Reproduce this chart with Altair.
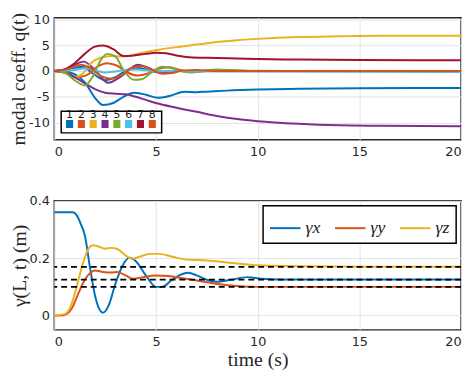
import altair as alt
import pandas as pd

# ---------------- top panel: modal coefficients q(t) ----------------
mode_names = ["1", "2", "3", "4", "5", "6", "7", "8"]
mode_colors = ["#0072BD", "#D95319", "#EDB120", "#7E2F8E", "#77AC30", "#4DBEEE", "#A2142F", "#D95319"]

t_m1 = [0, 0.5, 1.0, 1.5, 2.0, 2.4, 2.9, 3.4, 3.9, 4.5, 5.1, 5.7, 6.4, 7.0, 7.5, 8.5, 10, 12, 15, 20]
q_m1 = [0, -0.1, -0.6, -2.2, -5.2, -6.6, -6.2, -5.0, -4.2, -4.6, -5.2, -4.8, -4.0, -4.1, -4.0, -3.8, -3.6, -3.45, -3.35, -3.3]

t_m2 = [0, 0.6, 1.1, 1.6, 2.1, 2.6, 3.1, 3.6, 4.1, 4.6, 5.1, 5.6, 6.1, 6.6, 7.2, 8, 9, 10, 20]
q_m2 = [0, -0.3, -1.2, -0.8, 0.8, 1.5, 1.0, -0.3, -0.9, -0.5, 0.4, 0.7, 0.3, -0.2, -0.1, 0.2, 0.1, 0, 0]

t_m3 = [0, 0.5, 1.0, 1.4, 1.8, 2.3, 2.8, 3.3, 3.8, 4.3, 5, 6, 7, 8, 9, 10, 12, 14, 16, 20]
q_m3 = [0, -0.3, -1.2, -0.5, 1.5, 2.6, 2.9, 2.8, 3.0, 3.5, 4.0, 4.6, 5.1, 5.6, 5.95, 6.2, 6.55, 6.7, 6.8, 6.8]

t_m4 = [0, 0.5, 1.0, 1.5, 2.0, 2.5, 3.0, 3.5, 4.0, 4.5, 5.0, 6, 7, 8, 9, 10, 12, 14, 16, 20]
q_m4 = [0, -0.3, -1.2, -2.4, -3.5, -4.2, -4.4, -4.5, -5.0, -5.6, -6.2, -7.1, -7.9, -8.7, -9.3, -9.7, -10.2, -10.5, -10.6, -10.7]

t_m5 = [0, 0.5, 1.0, 1.5, 1.9, 2.3, 2.6, 3.0, 3.4, 3.9, 4.3, 4.8, 5.3, 5.8, 6.3, 6.8, 7.5, 8.0, 9, 10, 12, 20]
q_m5 = [0, -0.3, -1.8, -2.8, -1.0, 2.2, 3.3, 2.8, 0.2, -1.7, -1.6, -0.2, 0.8, 0.5, -0.1, -0.3, 0.1, 0.3, 0.1, 0.05, 0, 0]

t_m6 = [0, 1.0, 1.5, 2.0, 2.5, 3.0, 3.5, 4.0, 5.0, 8, 20]
q_m6 = [0, 0.2, 0.5, 0.1, -0.3, -0.1, 0.2, 0.3, 0, -0.1, -0.2]

t_m7 = [0, 0.5, 1.0, 1.5, 2.0, 2.4, 2.9, 3.4, 3.9, 4.5, 5.0, 5.5, 6.0, 6.8, 8, 9, 10, 12, 15, 20]
q_m7 = [0, 0.3, 1.5, 3.3, 4.7, 4.9, 4.2, 2.9, 3.0, 3.3, 3.5, 3.4, 3.0, 2.6, 2.5, 2.4, 2.3, 2.2, 2.1, 2.05]

t_m8 = [0, 0.8, 1.3, 1.8, 2.3, 2.8, 3.3, 3.8, 4.3, 4.8, 5.3, 5.8, 6.3, 7, 8, 20]
q_m8 = [0, 0.5, 1.2, 0.5, -1.0, -1.5, -0.8, 0.6, 0.9, 0.2, -0.5, -0.4, 0.1, 0.2, 0, 0]

# further (unlabelled) oscillating modes
t_x1 = [0, 0.6, 1.0, 1.4, 1.9, 2.5, 3.0, 3.5, 4.0, 4.5, 5.0, 5.5, 6.0, 7, 20]
q_x1 = [0, 0.3, 0.6, 0.8, -0.5, -1.8, -1.2, 0.0, 0.6, 0.3, -0.2, -0.3, 0, 0, 0]
t_x2 = [0, 0.6, 1.0, 1.44, 2.0, 2.65, 3.3, 4.1, 4.7, 5.3, 6.0, 7, 20]
q_x2 = [0, 0.4, 1.2, 1.8, 0.2, -2.3, -1.0, 1.2, 0.5, -0.5, 0, 0, 0]

# ---------------- bottom panel: gamma(L,t) ----------------
comp_names = ["γx", "γy", "γz"]
comp_colors = ["#0072BD", "#D95319", "#EDB120"]

t_gx = [0, 0.9, 1.1, 1.3, 1.5, 1.75, 2.0, 2.2, 2.4, 2.7, 3.0, 3.4, 3.7, 4.0, 4.5, 5.0, 5.3, 5.8, 6.3, 6.6, 7.0, 7.5, 8.0, 8.7, 9.5, 10.2, 11, 13, 20]
g_x = [0.36, 0.36, 0.35, 0.32, 0.28, 0.17, 0.07, 0.025, 0.01, 0.04, 0.11, 0.18, 0.202, 0.19, 0.14, 0.1, 0.1, 0.125, 0.145, 0.149, 0.14, 0.125, 0.118, 0.125, 0.134, 0.128, 0.126, 0.126, 0.126]

t_gy = [0, 0.3, 0.6, 0.9, 1.2, 1.5, 1.8, 2.0, 2.4, 2.8, 3.1, 3.5, 3.9, 4.3, 5.0, 5.6, 6.3, 7.0, 7.6, 8.2, 9, 10, 20]
g_y = [0, 0.0, 0.005, 0.03, 0.08, 0.125, 0.15, 0.157, 0.152, 0.15, 0.152, 0.14, 0.128, 0.133, 0.14, 0.138, 0.13, 0.122, 0.115, 0.108, 0.103, 0.1, 0.1]

t_gz = [0, 0.5, 0.8, 1.1, 1.4, 1.7, 1.9, 2.2, 2.5, 2.8, 3.1, 3.5, 3.8, 4.2, 4.7, 5.2, 5.8, 6.5, 7.5, 8.5, 9.5, 10, 12, 15, 20]
g_z = [0, 0.005, 0.03, 0.1, 0.18, 0.235, 0.245, 0.24, 0.233, 0.236, 0.232, 0.21, 0.198, 0.205, 0.215, 0.215, 0.205, 0.195, 0.192, 0.185, 0.178, 0.175, 0.172, 0.17, 0.17]

ref_levels = [0.17, 0.125, 0.1]


def frame(t, v, key, name):
    return pd.DataFrame({"t": t, "v": v, key: name})


top_df = pd.concat([
    frame(t_m1, q_m1, "mode", "1"), frame(t_m2, q_m2, "mode", "2"),
    frame(t_m3, q_m3, "mode", "3"), frame(t_m4, q_m4, "mode", "4"),
    frame(t_m5, q_m5, "mode", "5"), frame(t_m6, q_m6, "mode", "6"),
    frame(t_m7, q_m7, "mode", "7"), frame(t_m8, q_m8, "mode", "8"),
], ignore_index=True)
extra1 = frame(t_x1, q_x1, "mode", "x1")
extra2 = frame(t_x2, q_x2, "mode", "x2")

bot_df = pd.concat([
    frame(t_gx, g_x, "comp", comp_names[0]),
    frame(t_gy, g_y, "comp", comp_names[1]),
    frame(t_gz, g_z, "comp", comp_names[2]),
], ignore_index=True)
ref_df = pd.DataFrame({"level": ref_levels})

LABEL_FONT = "DejaVu Sans"
TITLE_FONT = "Liberation Serif"
W = 413

# filled-looking legend square made of thin horizontal strokes, below the label
SQUARE = "".join(f"M-3.6,{y}H3.6" for y in [0.5, 1.5, 2.5, 3.5, 4.5, 5.5, 6.5, 7.5])

x_top = alt.X("t:Q", scale=alt.Scale(domain=[0, 20], nice=False),
              axis=alt.Axis(values=[0, 5, 10, 15, 20], title=None))
y_top = alt.Y("v:Q", scale=alt.Scale(domain=[-13.3, 10.3], nice=False),
              axis=alt.Axis(values=[-10, -5, 0, 5, 10], title="modal coeff. q(t)",
                            labelExpr="replace(datum.label, '−', '-')"))

extra_a = alt.Chart(extra1).mark_line(color="#0072BD", strokeWidth=2, interpolate="monotone").encode(
    x=x_top, y=y_top, detail="mode:N")
extra_b = alt.Chart(extra2).mark_line(color="#7E2F8E", strokeWidth=2, interpolate="monotone").encode(
    x=x_top, y=y_top, detail="mode:N")

main_top = alt.Chart(top_df).mark_line(strokeWidth=2, interpolate="monotone").encode(
    x=x_top, y=y_top,
    color=alt.Color("mode:N", scale=alt.Scale(domain=mode_names, range=mode_colors),
                    legend=alt.Legend(
                        title=None, orient="bottom-left", offset=7, direction="horizontal",
                        columns=8, columnPadding={"expr": "-1.6"}, padding=3,
                        strokeColor="black", fillColor="white",
                        labelFont=LABEL_FONT, labelFontSize=11, labelColor="#222",
                        labelAlign="center", labelBaseline="bottom",
                        labelOffset={"expr": "-5.5"},
                        symbolType=SQUARE, symbolSize=4,
                        symbolStrokeWidth=1.05, symbolOpacity=1)),
)

top = alt.layer(extra_a, extra_b, main_top).properties(width=W, height=124)

x_bot = alt.X("t:Q", scale=alt.Scale(domain=[0, 20], nice=False),
              axis=alt.Axis(values=[0, 5, 10, 15, 20], title="time (s)"))
y_bot = alt.Y("v:Q", scale=alt.Scale(domain=[-0.05, 0.4], nice=False),
              axis=alt.Axis(values=[0, 0.1, 0.2, 0.3, 0.4], format=".1~f", title="γ(L, t) (m)"))

lines_bot = alt.Chart(bot_df).mark_line(strokeWidth=2, interpolate="monotone").encode(
    x=x_bot, y=y_bot,
    color=alt.Color("comp:N", scale=alt.Scale(domain=comp_names, range=comp_colors),
                    legend=alt.Legend(
                        title=None, orient="top-right", offset=5, direction="horizontal",
                        columns=3, columnPadding=10, padding=6,
                        strokeColor="black", fillColor="white",
                        labelFont=TITLE_FONT, labelFontSize=18, labelFontStyle="italic",
                        labelColor="#222", labelOffset=4,
                        symbolType="stroke", symbolSize=961, symbolStrokeWidth=2)),
)
rules_bot = alt.Chart(ref_df).mark_rule(color="black", strokeWidth=1.8, strokeDash=[6, 4]).encode(
    y=alt.Y("level:Q", scale=alt.Scale(domain=[-0.05, 0.4], nice=False)))

bottom = alt.layer(lines_bot, rules_bot).properties(width=W, height=131)

chart = alt.vconcat(top, bottom, spacing=35).resolve_scale(color="independent").properties(
    padding={"left": 0, "top": 0, "right": 0, "bottom": 0}
).configure_axis(
    grid=True, gridColor="#e3e3e3", gridWidth=1, domain=False, ticks=False,
    labelFont=LABEL_FONT, labelFontSize=13, labelColor="#262626",
    titleFont=TITLE_FONT, titleFontSize=20, titleFontWeight="normal", titleColor="#262626",
).configure_axisX(
    labelPadding=6, titlePadding=1,
).configure_axisY(
    labelPadding=5, titlePadding=0,
).configure_view(
    stroke="#262626", strokeWidth=1.5,
).configure_legend(
    strokeWidth=1.5,
)

chart.save("out.html", embed_options={"renderer": "svg", "actions": False})
